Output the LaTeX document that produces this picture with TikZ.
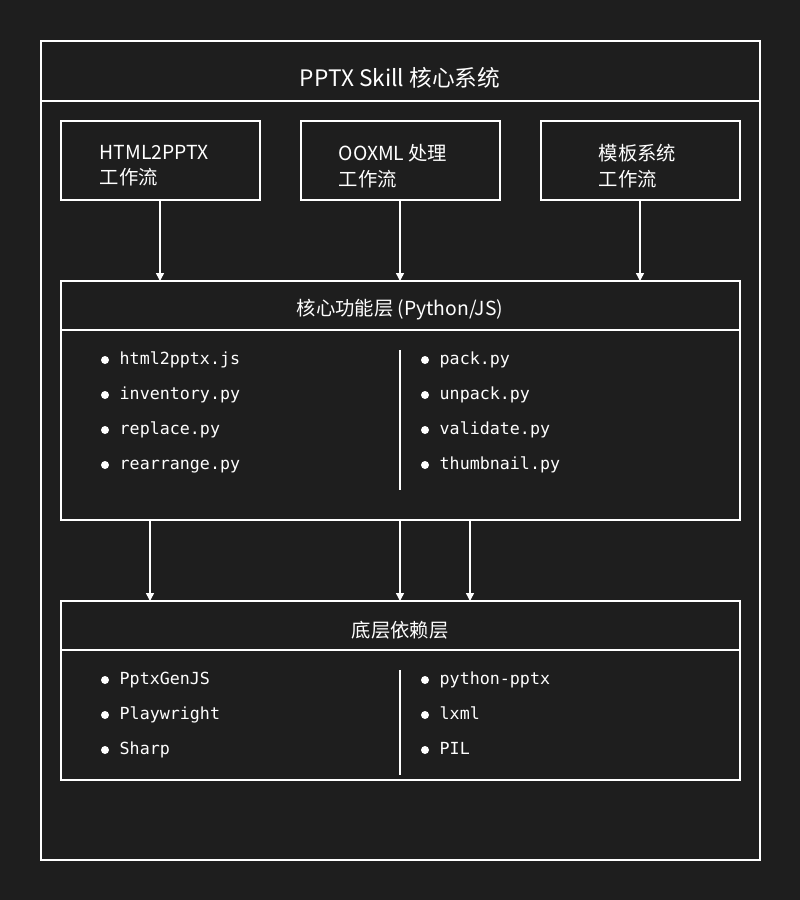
\documentclass[tikz,border=0pt]{standalone}
\usepackage{fontspec}
\setmainfont{Noto Sans CJK SC}
\newfontfamily\monof{DejaVu Sans Mono}
\usetikzlibrary{arrows.meta}
\definecolor{bg}{HTML}{1E1E1E}
\begin{document}
\begin{tikzpicture}[x=0.75pt,y=-0.75pt,
  box/.style={draw=white,line width=1.5pt},
  arr/.style={draw=white,line width=1.1pt,-{Triangle[length=6pt,width=6pt]}},
  lbl/.style={text=white,font=\fontsize{14.5}{19}\selectfont,anchor=west,align=left},
  ttl/.style={text=white,font=\fontsize{14.5}{17}\selectfont},
  itm/.style={text=white,font=\monof\fontsize{12.5}{14}\selectfont,anchor=west,text height=9pt,text depth=2.5pt},
  dot/.style={circle,fill=white,inner sep=0pt,minimum size=6pt}]
\fill[bg] (0,0) rectangle (800,900);
\useasboundingbox (0,0) rectangle (800,900);
\draw[box] (41,41) rectangle (760,860);
\draw[box] (41,101) -- (760,101);
\node[ttl,font=\fontsize{17}{20}\selectfont] (title) at (400,78) {PPTX Skill 核心系统};
% top boxes
\draw[box] (61,121) rectangle (260,200);
\draw[box] (301,121) rectangle (500,200);
\draw[box] (541,121) rectangle (740,200);
\node[lbl] (t1) at (95,166) {HTML2PPTX\\工作流};
\node[lbl] (t2) at (334,166) {OOXML 处理\\工作流};
\node[lbl] (t3) at (594,166) {模板系统\\工作流};
\coordinate (a1) at (160,200); \coordinate (b1) at (160,281);
\coordinate (a2) at (400,200); \coordinate (b2) at (400,281);
\coordinate (a3) at (640,200); \coordinate (b3) at (640,281);
\draw[arr] (a1) -- (b1); \draw[arr] (a2) -- (b2); \draw[arr] (a3) -- (b3);
% core
\draw[box] (61,281) rectangle (740,520);
\draw[box] (61,330) -- (740,330);
\node[ttl] (core) at (400,310) {核心功能层 (Python/JS)};
\draw[white,line width=0.8pt] (400,350) -- (400,490);
\foreach \y/\l/\r in {360/html2pptx.js/pack.py,395/inventory.py/unpack.py,430/replace.py/validate.py,465/rearrange.py/thumbnail.py}{
  \node[dot] at (105,\y) {}; \node[itm] at (115,\y) {\l};
  \node[dot] at (425,\y) {}; \node[itm] at (435,\y) {\r};
}
\coordinate (c1) at (150,520); \coordinate (d1) at (150,601);
\coordinate (c2) at (400,520); \coordinate (d2) at (400,601);
\coordinate (c3) at (470,520); \coordinate (d3) at (470,601);
\draw[arr] (c1) -- (d1); \draw[arr] (c2) -- (d2); \draw[arr] (c3) -- (d3);
% bottom
\draw[box] (61,601) rectangle (740,780);
\draw[box] (61,650) -- (740,650);
\node[ttl] (dep) at (400,630) {底层依赖层};
\draw[white,line width=0.8pt] (400,670) -- (400,775);
\foreach \y/\l/\r in {680/PptxGenJS/python-pptx,715/Playwright/lxml,750/Sharp/PIL}{
  \node[dot] at (105,\y) {}; \node[itm] at (115,\y) {\l};
  \node[dot] at (425,\y) {}; \node[itm] at (435,\y) {\r};
}
\end{tikzpicture}
\end{document}
